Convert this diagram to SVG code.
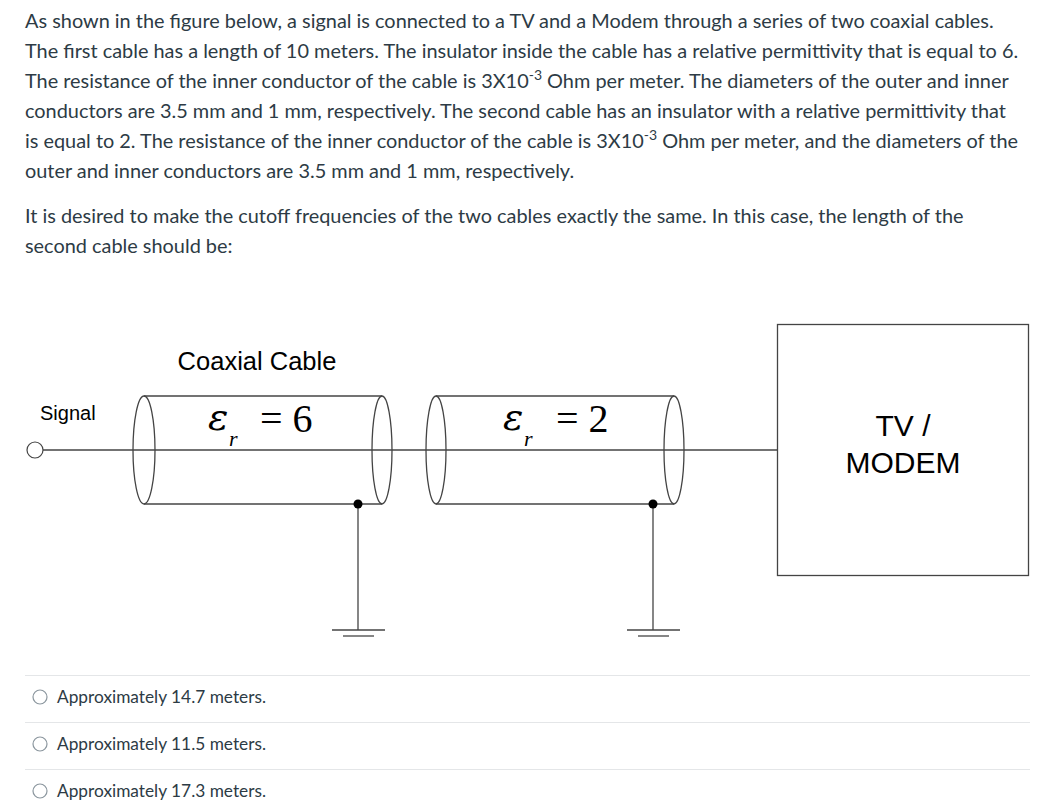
<svg xmlns="http://www.w3.org/2000/svg" width="1048" height="805" viewBox="0 0 1048 805">
<style>
.p{font-family:Lato,"Liberation Sans",sans-serif;font-size:19.9px;fill:#2d3b45}
.o{font-family:Lato,"Liberation Sans",sans-serif;font-size:17.3px;fill:#2d3b45}
.a{font-family:"Liberation Sans",Arial,sans-serif;fill:#000}
.m{font-family:"Liberation Serif","Times New Roman",serif;fill:#000}
.g{font-family:"DejaVu Serif",serif;font-style:italic;font-size:38px;fill:#000}
.l{stroke:#444;stroke-width:1.3;fill:none}
</style>
<rect width="1048" height="805" fill="#fff"/>
<g id="question">
<text class="p" x="25" y="28">As shown in the figure below, a signal is connected to a TV and a Modem through a series of two coaxial cables.</text>
<text class="p" x="25" y="58">The first cable has a length of 10 meters. The insulator inside the cable has a relative permittivity that is equal to 6.</text>
<text class="p" x="25" y="88">The resistance of the inner conductor of the cable is 3X10<tspan dy="-8" font-size="14">-3</tspan><tspan dy="8"> Ohm per meter. The diameters of the outer and inner</tspan></text>
<text class="p" x="25" y="118">conductors are 3.5 mm and 1 mm, respectively. The second cable has an insulator with a relative permittivity that</text>
<text class="p" x="25" y="148">is equal to 2. The resistance of the inner conductor of the cable is 3X10<tspan dy="-8" font-size="14">-3</tspan><tspan dy="8"> Ohm per meter, and the diameters of the</tspan></text>
<text class="p" x="25" y="178">outer and inner conductors are 3.5 mm and 1 mm, respectively.</text>
<text class="p" x="25" y="223">It is desired to make the cutoff frequencies of the two cables exactly the same. In this case, the length of the</text>
<text class="p" x="25" y="253">second cable should be:</text>
</g>
<g id="connectors">
<line class="l" x1="43" y1="450" x2="116" y2="450" stroke="#222"/>
<line class="l" x1="116" y1="450" x2="778" y2="450" stroke="#777"/>
<line class="l" x1="144" y1="396" x2="382" y2="396"/>
<line class="l" x1="144" y1="504" x2="382" y2="504"/>
<line class="l" x1="436" y1="396" x2="674" y2="396"/>
<line class="l" x1="436" y1="504" x2="674" y2="504"/>
<line class="l" x1="358" y1="504" x2="358" y2="630"/>
<line class="l" x1="653" y1="504" x2="653" y2="630"/>
<line class="l" x1="332" y1="630" x2="385" y2="630"/>
<line class="l" x1="343" y1="636" x2="374" y2="636"/>
<line class="l" x1="627" y1="630" x2="680" y2="630"/>
<line class="l" x1="638" y1="636" x2="669" y2="636"/>
<circle cx="358" cy="504" r="4.5" fill="#000"/>
<circle cx="653" cy="504" r="4.5" fill="#000"/>
</g>
<g id="signal">
<circle cx="35" cy="450" r="8" fill="#fff" stroke="#444" stroke-width="1.2"/>
<text class="a" x="40" y="420" font-size="20">Signal</text>
</g>
<g id="cable1">
<ellipse class="l" cx="144" cy="450" rx="11" ry="54"/>
<ellipse class="l" cx="382" cy="450" rx="10" ry="54"/>
<text class="a" x="257" y="370" font-size="25.5" text-anchor="middle">Coaxial Cable</text>
<text class="g" x="208" y="430">ε</text>
<text class="m" x="229" y="446" font-size="22" font-style="italic">r</text>
<text class="m" x="260" y="432" font-size="40">= 6</text>
</g>
<g id="cable2">
<ellipse class="l" cx="436" cy="450" rx="10" ry="54"/>
<ellipse class="l" cx="674" cy="450" rx="10" ry="54"/>
<text class="g" x="503" y="430">ε</text>
<text class="m" x="524" y="446" font-size="22" font-style="italic">r</text>
<text class="m" x="556" y="432" font-size="40">= 2</text>
</g>
<g id="tv">
<rect x="777.5" y="324.5" width="251" height="251" fill="#fff" stroke="#444" stroke-width="1.3"/>
<text class="a" x="903" y="436" font-size="30" text-anchor="middle">TV /</text>
<text class="a" x="903" y="473" font-size="30" text-anchor="middle">MODEM</text>
</g>
<g id="options">
<line x1="25" y1="675.5" x2="1030" y2="675.5" stroke="#e4e6e8"/>
<line x1="25" y1="722.5" x2="1030" y2="722.5" stroke="#e4e6e8"/>
<line x1="25" y1="769.5" x2="1030" y2="769.5" stroke="#e4e6e8"/>
<circle cx="40" cy="697" r="7" fill="#fff" stroke="#8b969e" stroke-width="1.2"/>
<circle cx="40" cy="744" r="7" fill="#fff" stroke="#8b969e" stroke-width="1.2"/>
<circle cx="40" cy="791" r="7" fill="#fff" stroke="#8b969e" stroke-width="1.2"/>
<text class="o" x="57" y="703">Approximately 14.7 meters.</text>
<text class="o" x="57" y="750">Approximately 11.5 meters.</text>
<text class="o" x="57" y="797">Approximately 17.3 meters.</text>
</g>
</svg>
